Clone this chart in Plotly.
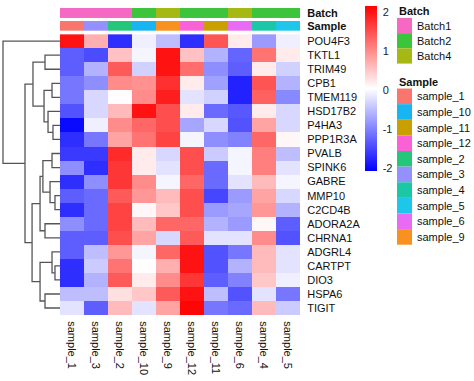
import plotly.graph_objects as go

W, H = 474, 381

genes = ["POU4F3", "TKTL1", "TRIM49", "CPB1", "TMEM119", "HSD17B2", "P4HA3", "PPP1R3A",
         "PVALB", "SPINK6", "GABRE", "MMP10", "C2CD4B", "ADORA2A", "CHRNA1", "ADGRL4",
         "CARTPT", "DIO3", "HSPA6", "TIGIT"]
samples = ["sample_1", "sample_3", "sample_2", "sample_10", "sample_9", "sample_12",
           "sample_11", "sample_6", "sample_4", "sample_5"]
batches = ["Batch1", "Batch1", "Batch1", "Batch2", "Batch4", "Batch2",
           "Batch2", "Batch4", "Batch2", "Batch2"]

values = [
    [2.0, 0.7, -1.7, -0.1, -0.5, -1.7, 1.45, 0.2, -0.8, -0.1],
    [-1.3, -1.45, 0.55, -0.05, 2.0, 0.55, -0.6, -1.25, 1.2, 0.2],
    [-1.3, -0.6, 1.4, -0.35, 2.0, 1.25, -0.9, -1.3, 0.2, -0.35],
    [-1.1, -0.9, 1.0, 0.95, 1.75, 0.2, -0.75, -1.8, 1.45, -0.6],
    [-1.1, -0.3, 0.05, 1.0, 1.9, -0.2, -0.35, -1.8, 1.35, -0.95],
    [-1.4, -0.3, 0.6, 2.0, 1.5, 0.2, -1.2, -1.35, 0.2, -0.3],
    [-2.0, -0.1, 1.0, 1.3, 1.5, -0.7, -0.3, -1.4, 0.8, -0.3],
    [-1.7, -1.1, 0.8, 1.2, 1.6, -0.05, -0.9, -1.0, 1.3, 0.1],
    [-1.6, -1.6, 1.8, 0.2, -0.3, 1.5, -0.4, -0.05, 1.1, -0.5],
    [-0.9, -1.7, 1.7, 0.2, -0.2, 1.5, -1.2, -0.05, 1.1, -0.2],
    [-1.7, -0.9, 1.7, 1.0, -0.05, 1.3, -1.2, -0.2, 0.6, -0.05],
    [-1.3, -1.2, 1.4, 0.9, 0.6, 1.5, -1.5, -0.8, 0.8, -0.3],
    [-1.7, -1.2, 1.6, 0.1, 0.5, 1.5, -0.8, -0.7, 0.9, -0.6],
    [-0.9, -1.2, 1.6, 0.6, 1.3, 1.3, -0.6, -0.8, 0.1, -1.3],
    [-1.3, -1.3, 1.5, 0.8, -0.3, 1.4, -0.2, -0.2, 1.0, -1.4],
    [-1.3, -0.5, 0.9, -0.05, 1.3, 2.0, -1.4, -1.1, 0.6, -0.2],
    [-1.7, -0.4, 1.2, 0.05, 0.7, 2.0, -1.4, -0.6, 0.6, -0.2],
    [-1.7, -0.6, 1.4, 0.2, 1.0, 1.7, -1.3, -1.0, 0.5, -0.1],
    [-0.5, -0.5, 0.3, 0.5, 1.4, 2.0, -0.5, -1.4, -0.2, -1.1],
    [-0.2, -1.3, 0.6, -0.2, 0.8, 2.1, -1.1, -1.2, 0.6, -0.4],
]

batch_levels = ["Batch1", "Batch2", "Batch4"]
batch_colors = ["#F569C4", "#3CC43C", "#A5B814"]
sample_levels = ["sample_1", "sample_10", "sample_11", "sample_12", "sample_2",
                 "sample_3", "sample_4", "sample_5", "sample_6", "sample_9"]
sample_colors = ["#F8766D", "#17B5F2", "#C9A000", "#FB61D7", "#24C77A",
                 "#9590FF", "#1CC7A6", "#1EC6EA", "#E76BF3", "#F8911F"]

colorbar_ticks = [2, 1, 0, -1, -2]
z_min, z_max = -2.08, 2.15

# row dendrogram merges: (left, right, height); leaves are 0..19 in display order
merges = [
    (1, 2, 2.63), (3, 4, 1.4), (6, 7, 1.23), (5, 22, 2.1), (21, 23, 2.8), (20, 24, 4.74),
    (8, 9, 1.4), (11, 12, 0.88), (10, 27, 1.75), (26, 28, 3.0), (13, 14, 2.63),
    (29, 30, 3.5), (16, 17, 0.88), (15, 32, 1.4), (18, 19, 2.63), (33, 34, 3.5),
    (31, 35, 4.9), (25, 36, 6.14), (0, 37, 10.0),
]


def px(x):
    return x / W


def py(y):
    return 1 - y / H


hm_left, hm_right, hm_top, hm_bot = 60, 300, 33.3, 315.7
font = "Liberation Sans, Arial, sans-serif"

fig = go.Figure()

# main heatmap
fig.add_trace(go.Heatmap(
    z=values, x=list(range(len(samples))), y=list(range(len(genes))),
    zmin=z_min, zmax=z_max,
    colorscale=[[0, "#0000FF"], [0.5, "#FFFFFF"], [1, "#FF0000"]],
    hoverinfo="skip",
    colorbar=dict(
        x=px(365), xanchor="left", xpad=0, y=py(5), yanchor="top", ypad=0,
        lenmode="pixels", len=165, thickness=12, outlinewidth=0,
        tickvals=colorbar_ticks, ticktext=[str(t) for t in colorbar_ticks],
        ticks="outside", ticklen=4, tickcolor="rgba(0,0,0,0)",
        tickfont=dict(family=font, size=11, color="#222"),
    ),
))

# annotation bars
sample_codes = [sample_levels.index(s) for s in samples]
batch_codes = [batch_levels.index(b) for b in batches]
n_s = len(sample_levels)
fig.add_trace(go.Heatmap(
    z=[sample_codes], x=list(range(len(samples))), y=[0], yaxis="y2",
    zmin=0, zmax=n_s - 1, showscale=False, hoverinfo="skip",
    colorscale=[[i / (n_s - 1), c] for i, c in enumerate(sample_colors)],
))
fig.add_trace(go.Heatmap(
    z=[batch_codes], x=list(range(len(samples))), y=[0], yaxis="y3",
    zmin=0, zmax=len(batch_levels) - 1, showscale=False, hoverinfo="skip",
    colorscale=[[i / (len(batch_levels) - 1), c] for i, c in enumerate(batch_colors)],
))

# dendrogram
node_pos = {i: (float(i), 0.0) for i in range(len(genes))}
dx, dy = [], []
for k, (a, b, h) in enumerate(merges):
    ya, ha = node_pos[a]
    yb, hb = node_pos[b]
    dx += [ha, h, h, hb, None]
    dy += [ya, ya, yb, yb, None]
    node_pos[len(genes) + k] = ((ya + yb) / 2, h)
fig.add_trace(go.Scatter(x=dx, y=dy, xaxis="x2", yaxis="y", mode="lines",
                         line=dict(color="#555555", width=1.3), hoverinfo="skip",
                         showlegend=False))

# legends (drawn as swatches)
shapes, annots = [], []


def legend_block(title, levels, colors, title_y, start_y, step):
    annots.append(dict(x=px(397), y=py(title_y), xref="paper", yref="paper",
                       text="<b>%s</b>" % title, showarrow=False, xanchor="left",
                       yanchor="middle", font=dict(family=font, size=11, color="#111")))
    for i, (lev, col) in enumerate(zip(levels, colors)):
        y0 = start_y + i * step
        shapes.append(dict(type="rect", xref="paper", yref="paper",
                           x0=px(397), x1=px(412), y0=py(y0), y1=py(y0 + step),
                           fillcolor=col, line=dict(width=0)))
        annots.append(dict(x=px(415), y=py(y0 + step / 2), xref="paper", yref="paper",
                           text=lev, showarrow=False, xanchor="left", yanchor="middle",
                           font=dict(family=font, size=11, color="#111")))


legend_block("Batch", batch_levels, batch_colors, 10, 17, 15.3)
legend_block("Sample", sample_levels, sample_colors, 81, 88, 15.7)

fig.update_layout(
    width=W, height=H, margin=dict(l=0, r=0, t=0, b=0),
    paper_bgcolor="white", plot_bgcolor="white", showlegend=False,
    shapes=shapes, annotations=annots,
    xaxis=dict(domain=[px(hm_left), px(hm_right)], range=[-0.5, len(samples) - 0.5],
               tickvals=list(range(len(samples))), ticktext=samples, tickangle=90,
               ticks="outside", ticklen=3, tickcolor="rgba(0,0,0,0)",
               tickfont=dict(family=font, size=11, color="#111"),
               showgrid=False, zeroline=False, showline=False, anchor="y"),
    yaxis=dict(domain=[py(hm_bot), py(hm_top)], range=[len(genes) - 0.5, -0.5],
               tickvals=list(range(len(genes))), ticktext=genes, side="right",
               ticks="outside", ticklen=4, tickcolor="rgba(0,0,0,0)",
               tickfont=dict(family=font, size=11, color="#111"),
               showgrid=False, zeroline=False, showline=False, anchor="x"),
    yaxis2=dict(domain=[py(30), py(20)], range=[-0.5, 0.5], tickvals=[0],
                ticktext=["<b>Sample</b>"], side="right", anchor="x",
                ticks="outside", ticklen=4, tickcolor="rgba(0,0,0,0)",
                tickfont=dict(family=font, size=11, color="#111"),
                showgrid=False, zeroline=False, showline=False),
    yaxis3=dict(domain=[py(17), py(7)], range=[-0.5, 0.5], tickvals=[0],
                ticktext=["<b>Batch</b>"], side="right", anchor="x",
                ticks="outside", ticklen=4, tickcolor="rgba(0,0,0,0)",
                tickfont=dict(family=font, size=11, color="#111"),
                showgrid=False, zeroline=False, showline=False),
    xaxis2=dict(domain=[0, px(hm_left)], range=[60 / 5.7, 0], anchor="y",
                showticklabels=False, showgrid=False, zeroline=False, showline=False,
                ticks=""),
)

fig.write_html("out.html", config={"displayModeBar": False},
               post_script="document.body.style.margin='0';document.body.style.padding='0';")
